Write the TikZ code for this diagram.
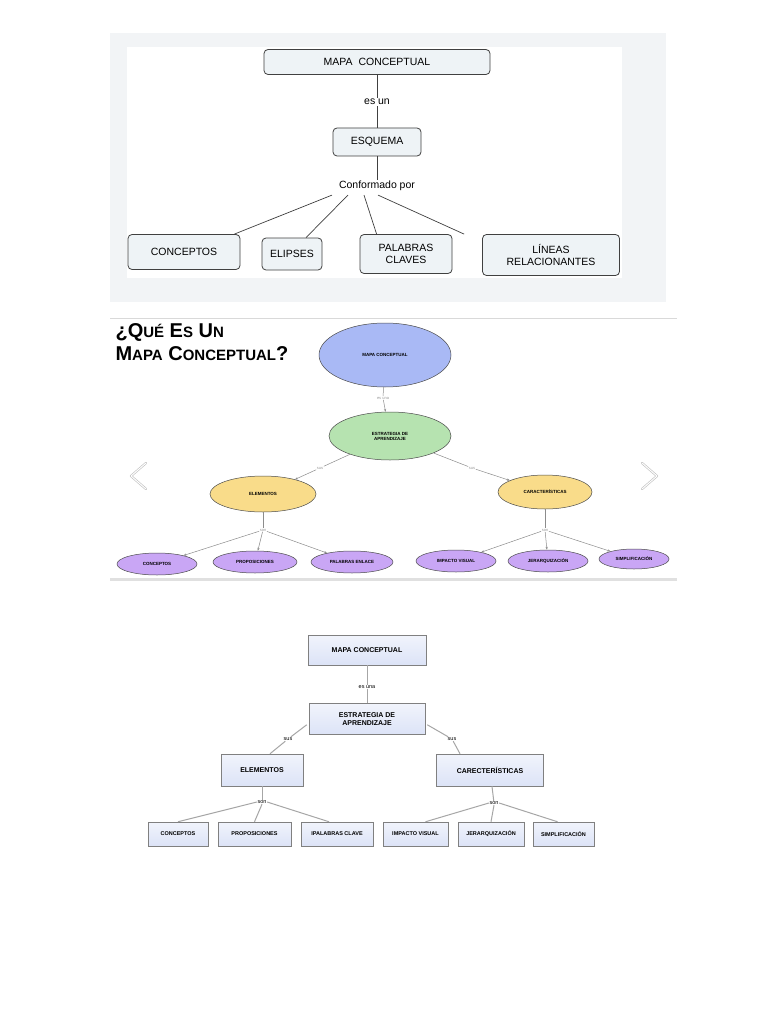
\documentclass[tikz,border=0pt]{standalone}
\usepackage{fontspec}
\setmainfont{Liberation Sans}
\usetikzlibrary{shapes.geometric,arrows.meta}
\definecolor{pg}{HTML}{F2F4F6}
\definecolor{bx}{HTML}{EEF3F6}
\definecolor{eb}{HTML}{A9B9F5}
\definecolor{eg}{HTML}{B6E3B0}
\definecolor{ey}{HTML}{F9DC8A}
\definecolor{ep}{HTML}{C9A6F5}
\definecolor{rb}{HTML}{DCE3F7}
\tikzset{
 x=1pt,y=-1pt,
 b1/.style={draw=black!75,fill=bx,rounded corners=4pt,line width=0.8pt,inner sep=0pt,font=\fontsize{10.5}{12}\selectfont,align=center},
 l1/.style={font=\fontsize{10.5}{12}\selectfont,fill=white,inner sep=1pt},
 c1/.style={draw=black!75,line width=0.7pt},
 el/.style={ellipse,draw=black!70,line width=0.5pt,inner sep=0pt,font=\fontsize{4.5}{5}\selectfont\bfseries,align=center},
 l2/.style={font=\fontsize{4}{5}\selectfont,text=black!40,fill=white,inner sep=0.5pt},
 c2/.style={draw=black!45,line width=0.5pt,-{Stealth[length=3pt]}},
 b3/.style={draw=black!50,top color=white!60!rb,bottom color=rb,line width=0.5pt,inner sep=0pt,font=\fontsize{7}{8}\selectfont\bfseries,align=center},
 l3/.style={font=\fontsize{5.5}{6}\selectfont,fill=white,inner sep=0.5pt},
 c3/.style={draw=black!35,line width=1pt},
}
\begin{document}
\begin{tikzpicture}
\useasboundingbox (0,0) rectangle (768,1024);
\fill[white] (0,0) rectangle (768,1024);
% panel 1
\fill[pg] (110,33) rectangle (666,302);
\fill[white] (127,47) rectangle (622,278);
\node[b1,minimum width=226,minimum height=25] (m1) at (377,62) {MAPA\ \ CONCEPTUAL};
\node[l1] (esun) at (377,102) {es un};
\node[b1,minimum width=88,minimum height=28] (esq) at (377,142) {ESQUEMA};
\node[l1] (conf) at (377,186) {Conformado por};
\node[b1,minimum width=112,minimum height=35] (con1) at (184,252) {CONCEPTOS};
\node[b1,minimum width=60,minimum height=32] (eli) at (292,254) {ELIPSES};
\node[b1,minimum width=92,minimum height=39] (pal) at (406,254) {PALABRAS\\CLAVES};
\node[b1,minimum width=137,minimum height=41] (lin) at (551,255) {LÍNEAS\\RELACIONANTES};
\draw[c1] (m1) -- (esun) -- (esq) -- (conf);
\draw[c1] ([xshift=-45pt,yshift=-3pt]conf.south) coordinate (q1) -- ([xshift=-6pt]con1.north east);
\draw[c1] ([xshift=-29pt,yshift=-3pt]conf.south) coordinate (q2) -- ([xshift=14pt]eli.north);
\draw[c1] ([xshift=-13pt,yshift=-3pt]conf.south) coordinate (q3) -- ([xshift=17pt]pal.north west);
\draw[c1] ([xshift=1pt,yshift=-3pt]conf.south) coordinate (q4) -- ([xshift=-18pt]lin.north west);
% panel 2
\draw[black!15,line width=0.8pt] (110,318) -- (677,318);
\fill[black!12] (110,578) rectangle (677,581);
\node[font=\fontsize{20}{23}\selectfont\bfseries,align=left,anchor=north west] (tit) at (112,320) {¿Q{\fontsize{15}{17}\selectfont UÉ} E{\fontsize{15}{17}\selectfont S} U{\fontsize{15}{17}\selectfont N}\\M{\fontsize{15}{17}\selectfont APA} C{\fontsize{15}{17}\selectfont ONCEPTUAL}?};
\node[el,fill=eb,minimum width=132,minimum height=64] (e1) at (385,355) {MAPA CONCEPTUAL};
\node[l2] (esuna2) at (383,398) {es una};
\node[el,fill=eg,minimum width=122,minimum height=48] (e2) at (390,436) {ESTRATEGIA DE\\APRENDIZAJE};
\node[el,fill=ey,minimum width=106,minimum height=36] (e3) at (263,494) {ELEMENTOS};
\node[el,fill=ey,minimum width=94,minimum height=34] (e4) at (545,492) {CARACTERÍSTICAS};
\node[l2] (sus2a) at (320,468) {sus};
\node[l2] (sus2b) at (472,468) {sus};
\node[l2] (son2a) at (263,530) {son};
\node[l2] (son2b) at (545,530) {son};
\node[el,fill=ep,minimum width=80,minimum height=22] (p1) at (157,564) {CONCEPTOS};
\node[el,fill=ep,minimum width=84,minimum height=22] (p2) at (255,562) {PROPOSICIONES};
\node[el,fill=ep,minimum width=82,minimum height=22] (p3) at (352,562) {PALABRAS ENLACE};
\node[el,fill=ep,minimum width=80,minimum height=22] (p4) at (456,561) {IMPACTO VISUAL};
\node[el,fill=ep,minimum width=80,minimum height=22] (p5) at (548,561) {JERARQUIZACIÓN};
\node[el,fill=ep,minimum width=70,minimum height=20] (p6) at (634,559) {SIMPLIFICACIÓN};
\draw[c2,-] (e1) -- (esuna2); \draw[c2] (esuna2) -- (e2);
\draw[c2,-] (e2) -- (sus2a); \draw[c2] (sus2a) -- (e3);
\draw[c2,-] (e2) -- (sus2b); \draw[c2] (sus2b) -- (e4);
\draw[c2,-] (e3) -- (son2a); \draw[c2,-] (e4) -- (son2b);
\foreach \p in {p1,p2,p3} \draw[c2] (son2a) -- (\p);
\foreach \p in {p4,p5,p6} \draw[c2] (son2b) -- (\p);
\draw[black!25,line width=2.2pt,line cap=round,line join=round] (146,463) coordinate (ch1) -- (131,476) -- (146,489);
\draw[white,line width=1pt,line cap=round,line join=round] (146,463) -- (131,476) -- (146,489);
\draw[black!25,line width=2.2pt,line cap=round,line join=round] (642,463) coordinate (ch2) -- (657,476) -- (642,489);
\draw[white,line width=1pt,line cap=round,line join=round] (642,463) -- (657,476) -- (642,489);
% panel 3
\node[b3,minimum width=118,minimum height=30] (r1) at (367,650) {MAPA CONCEPTUAL};
\node[l3] (esuna3) at (367,687) {es una};
\node[b3,minimum width=116,minimum height=31] (r2) at (367,719) {ESTRATEGIA DE\\APRENDIZAJE};
\node[l3] (sus3a) at (288,739) {sus};
\node[l3] (sus3b) at (452,739) {sus};
\node[b3,minimum width=82,minimum height=32] (r3) at (262,770) {ELEMENTOS};
\node[b3,minimum width=107,minimum height=32] (r4) at (490,770) {CARECTERÍSTICAS};
\node[l3] (son3a) at (262,802) {son};
\node[l3] (son3b) at (494,803) {son};
\tikzset{b4/.style={b3,minimum height=24,font=\fontsize{5.5}{6}\selectfont\bfseries}}
\node[b4,minimum width=60] (s1) at (178,834) {CONCEPTOS};
\node[b4,minimum width=73] (s2) at (254.5,834) {PROPOSICIONES};
\node[b4,minimum width=72] (s3) at (337,834) {IPALABRAS CLAVE};
\node[b4,minimum width=65] (s4) at (415.5,834) {IMPACTO VISUAL};
\node[b4,minimum width=66] (s5) at (491,834) {JERARQUIZACIÓN};
\node[b4,minimum width=61] (s6) at (563.5,834) {SIMPLIFICACIÓN};
\draw[c3] (r1) -- (esuna3) -- (r2);
\draw[c3] (r2.south west)++(-2,-10) -- (sus3a) -- ([xshift=8pt]r3.north);
\draw[c3] (r2.south east)++(2,-10) -- (sus3b) -- ([xshift=-30pt]r4.north);
\draw[c3] (r3) -- (son3a); \draw[c3] (r4) -- (son3b);
\draw[c3] (son3a.west) -- (s1.north);
\draw[c3] (son3a.south) -- (s2.north);
\draw[c3] (son3a.east) -- ([xshift=-8pt]s3.north);
\draw[c3] (son3b.west) -- ([xshift=10pt]s4.north);
\draw[c3] (son3b.south) -- (s5.north);
\draw[c3] (son3b.east) -- ([xshift=-6pt]s6.north);
\end{tikzpicture}
\end{document}
